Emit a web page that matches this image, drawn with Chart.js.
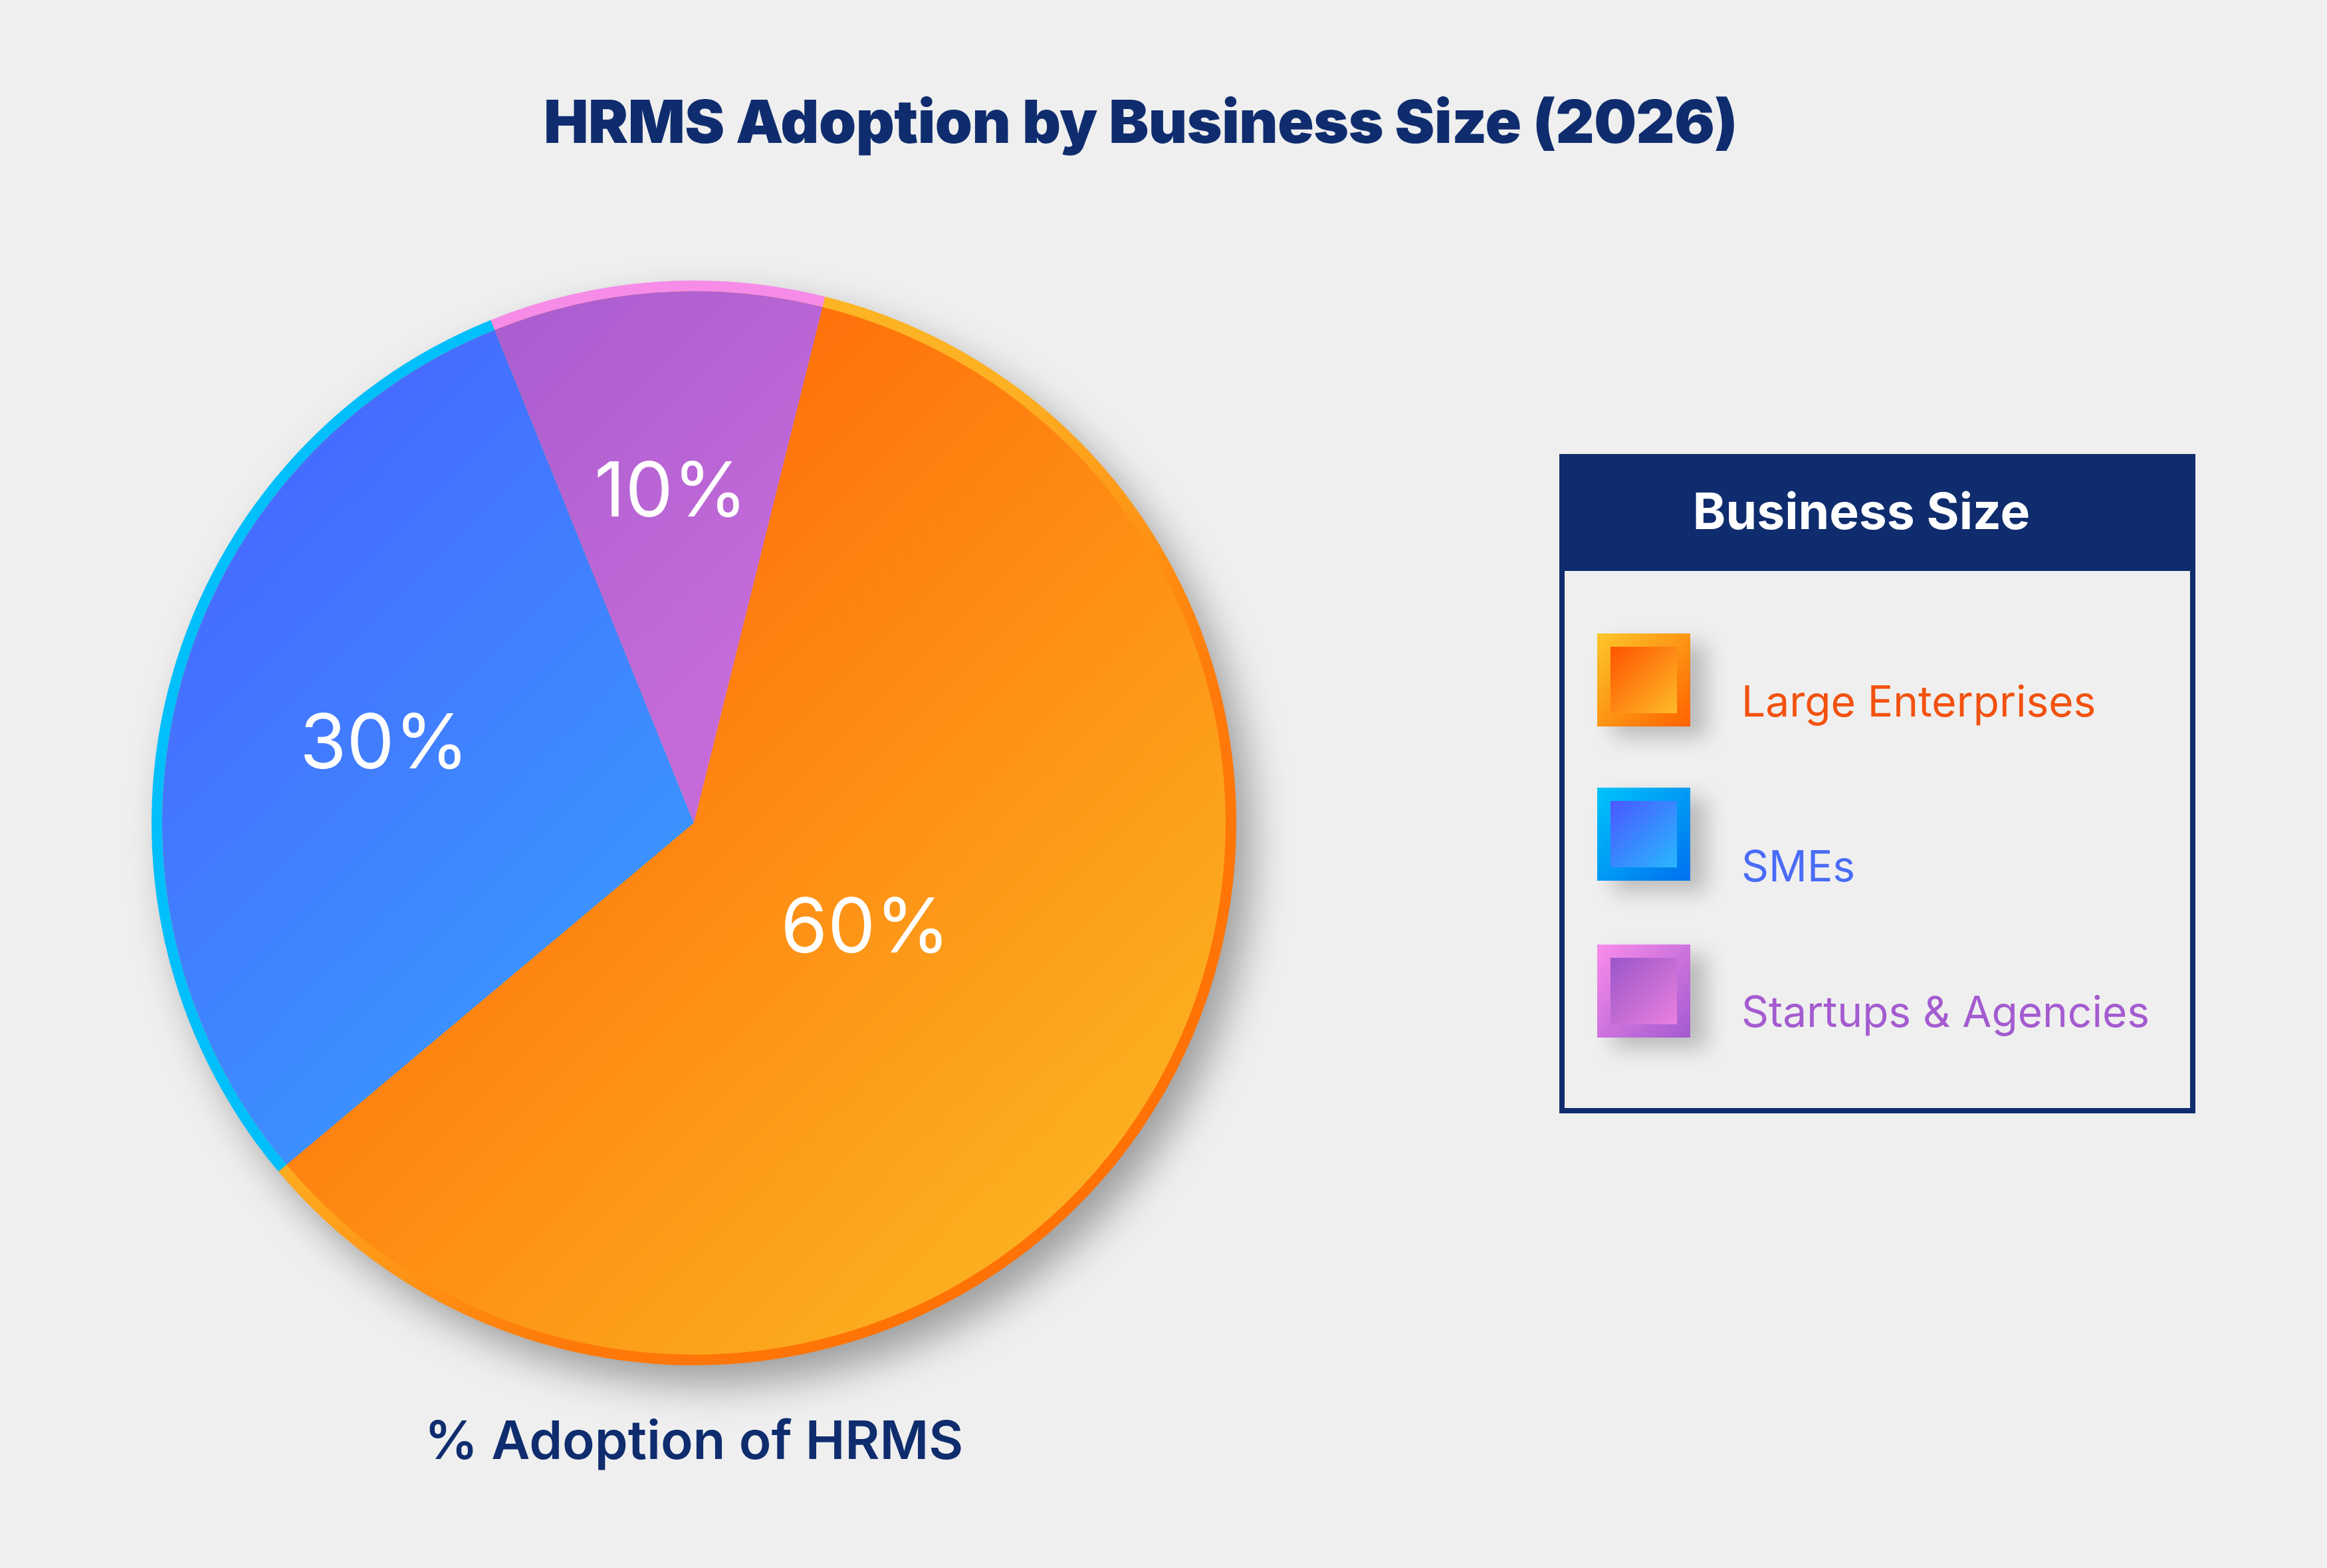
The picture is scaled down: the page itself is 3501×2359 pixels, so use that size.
<!DOCTYPE html>
<html>
<head>
<meta charset="utf-8">
<script src="https://cdn.jsdelivr.net/npm/chart.js@4.4.1/dist/chart.umd.min.js"></script>
<style>
  html, body { margin:0; padding:0; width:3501px; height:2359px; background:#efefef; overflow:hidden; font-family: Inter, "Open Sans", sans-serif; }
  #mainTitle { position:absolute; left:0; top:138px; width:3432px; text-align:center; font-size:90px; font-weight:900; line-height:1; color:#0f2d6e; letter-spacing:-0.5px; white-space:nowrap; }
  #wrap { position:absolute; left:0; top:0; width:2088px; height:2359px; }
  #legend { position:absolute; left:2346px; top:683px; width:957px; height:992px; border:8px solid #0f2c6e; box-sizing:border-box; }
  #legend .hd { position:absolute; left:0; top:0; right:0; height:168px; background:#0f2c6e; color:#fff; font-size:75px; font-weight:700; line-height:156px; text-align:center; padding-right:48px; box-sizing:border-box; }
  #legend .sw { position:absolute; left:49px; width:140px; height:140px; box-shadow: 24px 16px 30px rgba(0,0,0,0.22); }
  #legend .sw i { position:absolute; left:20px; top:20px; right:20px; bottom:20px; }
  #legend .tx { position:absolute; left:266px; font-size:64px; line-height:1; white-space:nowrap; font-weight:400; }
</style>
</head>
<body>
<div id="mainTitle"></div>
<div id="wrap"><canvas id="c" width="2088" height="2359"></canvas></div>
<div id="legend"><div class="hd"></div></div>
<script>
// ---- data ----
const categories = ['Large Enterprises', 'SMEs', 'Startups & Agencies'];
const adoptionPct = [60, 30, 10];
const chartTitle = 'HRMS Adoption by Business Size (2026)';
const valueTitle = '% Adoption of HRMS';
const legendTitle = 'Business Size';

// ---- styles ----
const fillStops = [
  [[0, '#ff5e00'], [0.3, '#ff6f0a'], [1, '#fbc126']],
  [[0, '#4a5aff'], [0.5, '#3c92ff']],
  [[0.1, '#a359cd'], [0.45, '#c56bd9']]
];
const ringStops = [
  [[0, '#fbc22a'], [0.45, '#fdb022'], [0.68, '#ff7a0a'], [1, '#ff6a00']],
  [[0, '#00bffb'], [1, '#00bffb']],
  [[0, '#f68ce8'], [1, '#f68ce8']]
];
const labelRadiusFrac = [0.38, 0.6, 0.62];
const legendTextColors = ['#f2520f', '#4a6cf5', '#a45bd0'];
const swatchOuter = [['#fcc72a', '#ff6200'], ['#00c4fb', '#0070ee'], ['#fa8ceb', '#a25ad0']];
const swatchInner = [['#ff5400', '#fdbb28'], ['#4a58ff', '#28b8ff'], ['#9a56c8', '#ea80e0']];
const swatchTops = [262, 494, 730];
const textTops = [332, 580, 799];
const FONT = 'Inter, "Open Sans", sans-serif';

document.getElementById('mainTitle').textContent = chartTitle;
const lg = document.getElementById('legend');
lg.querySelector('.hd').textContent = legendTitle;
categories.forEach((name, i) => {
  const sw = document.createElement('div');
  sw.className = 'sw';
  sw.style.top = swatchTops[i] + 'px';
  sw.style.background = `linear-gradient(135deg, ${swatchOuter[i][0]}, ${swatchOuter[i][1]})`;
  const inner = document.createElement('i');
  inner.style.background = `linear-gradient(135deg, ${swatchInner[i][0]}, ${swatchInner[i][1]})`;
  sw.appendChild(inner);
  lg.appendChild(sw);
  const tx = document.createElement('div');
  tx.className = 'tx';
  tx.style.top = textTops[i] + 'px';
  tx.style.color = legendTextColors[i];
  tx.textContent = name;
  lg.appendChild(tx);
});

function diagGradient(chart, stops) {
  const a = chart.chartArea;
  if (!a) return stops[0][1];
  const cx = (a.left + a.right) / 2, cy = (a.top + a.bottom) / 2;
  const R = Math.min(a.right - a.left, a.bottom - a.top) / 2;
  const g = chart.ctx.createLinearGradient(cx - R, cy - R, cx + R, cy + R);
  stops.forEach(s => g.addColorStop(s[0], s[1]));
  return g;
}

const shadowPlugin = {
  id: 'pieShadow',
  beforeDatasetsDraw(chart) {
    const a = chart.getDatasetMeta(0).data[0];
    if (!a) return;
    const ctx = chart.ctx;
    ctx.save();
    ctx.beginPath();
    ctx.arc(a.x, a.y, a.outerRadius - 1, 0, Math.PI * 2);
    ctx.shadowColor = 'rgba(0,0,0,0.34)';
    ctx.shadowBlur = 60;
    ctx.shadowOffsetX = 24;
    ctx.shadowOffsetY = 30;
    ctx.fillStyle = '#fb9a1c';
    ctx.fill();
    ctx.restore();
  }
};

const valueLabelPlugin = {
  id: 'valueLabels',
  afterDatasetsDraw(chart) {
    const meta = chart.getDatasetMeta(1);
    const ctx = chart.ctx;
    ctx.save();
    ctx.fillStyle = '#ffffff';
    ctx.font = `400 114px ${FONT}`;
    ctx.textAlign = 'center';
    ctx.textBaseline = 'middle';
    meta.data.forEach((arc, i) => {
      const mid = (arc.startAngle + arc.endAngle) / 2;
      const r = arc.outerRadius * labelRadiusFrac[i];
      ctx.fillText(adoptionPct[i] + '%', arc.x + Math.cos(mid) * r, arc.y + Math.sin(mid) * r);
    });
    ctx.restore();
  }
};

new Chart(document.getElementById('c'), {
  type: 'pie',
  data: {
    labels: categories,
    datasets: [
      {
        label: 'rim',
        data: adoptionPct,
        weight: 1,
        borderWidth: 0,
        backgroundColor: ctx => diagGradient(ctx.chart, ringStops[ctx.dataIndex])
      },
      {
        label: valueTitle,
        data: adoptionPct,
        weight: 50,
        borderWidth: 0,
        backgroundColor: ctx => diagGradient(ctx.chart, fillStops[ctx.dataIndex])
      }
    ]
  },
  options: {
    responsive: false,
    devicePixelRatio: 1,
    animation: false,
    rotation: 14,
    hoverOffset: 0,
    layout: { padding: { top: 422, left: 200, right: 200, bottom: 0 } },
    plugins: {
      legend: { display: false },
      tooltip: { enabled: false },
      title: {
        display: true,
        position: 'bottom',
        text: valueTitle,
        color: '#0f2d6e',
        font: { family: FONT, size: 80, weight: 600, lineHeight: 1.2 },
        padding: { top: 69, bottom: 140 }
      }
    }
  },
  plugins: [shadowPlugin, valueLabelPlugin]
});
</script>
</body>
</html>
